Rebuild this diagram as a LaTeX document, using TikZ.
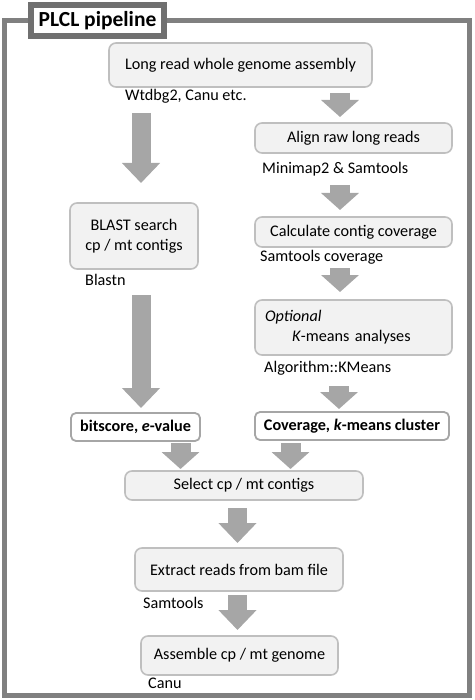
\documentclass[tikz,border=0pt]{standalone}
\usepackage{fontspec}
\setmainfont{Carlito}
\usetikzlibrary{arrows.meta}
\definecolor{framegray}{HTML}{808080}
\definecolor{titlegray}{HTML}{707070}
\definecolor{boxfill}{HTML}{F2F2F2}
\definecolor{boxline}{HTML}{BFBFBF}
\definecolor{arrowgray}{HTML}{A6A6A6}
\definecolor{resline}{HTML}{A6A6A6}
\begin{document}
\begin{tikzpicture}[x=1pt,y=-1pt,
  stepbox/.style={draw=boxline, line width=1.6pt, fill=boxfill, rounded corners=7pt,
    font=\fontsize{16.2}{20}\selectfont, inner sep=0pt, align=center},
  resbox/.style={draw=resline, line width=1.8pt, fill=white, rounded corners=5pt,
    font=\fontsize{16.2}{20}\selectfont\bfseries, inner sep=0pt},
  tool/.style={anchor=west, inner sep=0pt, font=\fontsize{16.2}{20}\selectfont},
  blockarrow/.style={draw=arrowgray, line width=20pt, -{Triangle[width=37pt,length=17pt]}},
  bigarrow/.style={draw=arrowgray, line width=19pt, -{Triangle[width=37pt,length=20pt]}}]
\useasboundingbox (0,0) rectangle (474,700);
% frame and title
\node[draw=framegray, line width=5pt, minimum width=465pt, minimum height=675pt, inner sep=0pt] (frame) at (237,358) {};
\node[draw=titlegray, line width=6pt, fill=white, minimum width=133pt, minimum height=31pt, inner sep=0pt,
  font=\fontsize{21.5}{24}\selectfont\bfseries] (title) at (97.5,20.5) {PLCL pipeline};
% step boxes
\node[stepbox, minimum width=263pt, minimum height=44pt] (lr) at (240.5,65) {Long read whole genome assembly};
\node[stepbox, minimum width=197pt, minimum height=30pt] (align) at (353.5,138) {Align raw long reads};
\node[stepbox, minimum width=197pt, minimum height=30pt] (calc) at (353.5,232) {Calculate contig coverage};
\node[stepbox, minimum width=197pt, minimum height=55pt, align=left, text width=177pt] (opt) at (353.5,327.5)
  {\textit{Optional}\\\hspace*{27pt}\textit{K}-means analyses};
\node[stepbox, minimum width=128pt, minimum height=66pt] (blast) at (134,236) {BLAST search\\cp / mt contigs};
\node[resbox, minimum width=129pt, minimum height=28pt] (bit) at (135.5,427) {bitscore, \textit{e}-value};
\node[resbox, minimum width=194pt, minimum height=28pt] (cov) at (352,426) {Coverage, \textit{k}-means cluster};
\node[stepbox, minimum width=238pt, minimum height=29pt] (sel) at (244,485.5) {Select cp / mt contigs};
\node[stepbox, minimum width=208pt, minimum height=43pt] (ext) at (239,569.5) {Extract reads from bam file};
\node[stepbox, minimum width=197pt, minimum height=39pt] (asm) at (239.5,655.5) {Assemble cp / mt genome};
% tool labels
\node[tool] (t1) at (125,96) {Wtdbg2, Canu etc.};
\node[tool] (t2) at (262,169) {Minimap2 \& Samtools};
\node[tool] (t3) at (260,257) {Samtools coverage};
\node[tool] (t4) at (264,368) {Algorithm::KMeans};
\node[tool] (tb) at (85,280) {Blastn};
\node[tool] (t5) at (143,603) {Samtools};
\node[tool] (t6) at (148,683) {Canu};
% arrow end points
\coordinate (r1s) at (340,93);  \coordinate (r1e) at (340,117);
\coordinate (r2s) at (340,185); \coordinate (r2e) at (340,210);
\coordinate (r3s) at (340,268); \coordinate (r3e) at (340,292);
\coordinate (r4s) at (339,386); \coordinate (r4e) at (339,409);
\coordinate (l1s) at (141,113); \coordinate (l1e) at (141,183);
\coordinate (l2s) at (141,295); \coordinate (l2e) at (141,408);
\coordinate (b1s) at (180.5,443); \coordinate (b1e) at (180.5,469);
\coordinate (b2s) at (290.5,443); \coordinate (b2e) at (290.5,469);
\coordinate (s1s) at (237.5,508); \coordinate (s1e) at (237.5,543);
\coordinate (s2s) at (237.5,595); \coordinate (s2e) at (237.5,630);
% arrows
\draw[blockarrow] (r1s) -- (r1e);
\draw[blockarrow] (r2s) -- (r2e);
\draw[blockarrow] (r3s) -- (r3e);
\draw[blockarrow] (r4s) -- (r4e);
\draw[bigarrow] (l1s) -- (l1e);
\draw[bigarrow] (l2s) -- (l2e);
\draw[blockarrow] (b1s) -- (b1e);
\draw[blockarrow] (b2s) -- (b2e);
\draw[bigarrow] (s1s) -- (s1e);
\draw[bigarrow] (s2s) -- (s2e);
\end{tikzpicture}
\end{document}
